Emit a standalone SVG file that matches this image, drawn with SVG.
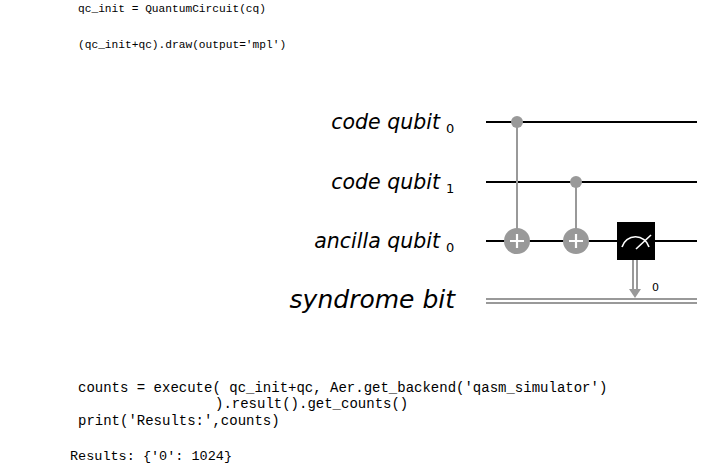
<svg xmlns="http://www.w3.org/2000/svg" width="710" height="469" viewBox="0 0 710 469">
<style>
.code{font-family:"Liberation Mono",monospace;font-size:11.2px;fill:#000}
.code2{font-family:"Liberation Mono",monospace;font-size:14px;fill:#000}
.lbl{font-family:"DejaVu Sans",sans-serif;font-style:italic;font-size:20.5px;fill:#000}
.sub{font-family:"DejaVu Sans",sans-serif;font-size:13px;fill:#000}
.wire{stroke:#000;stroke-width:2;fill:none}
.g{stroke:#999;stroke-width:2;fill:none}
</style>
<rect width="710" height="469" fill="#fff"/>
<g id="code-top">
<text class="code" x="78" y="12">qc_init = QuantumCircuit(cq)</text>
<text class="code" x="78" y="48">(qc_init+qc).draw(output='mpl')</text>
</g>
<g id="labels">
<text class="lbl" x="440" y="129" text-anchor="end">code qubit</text><text class="sub" x="446" y="133">0</text>
<text class="lbl" x="440" y="189" text-anchor="end">code qubit</text><text class="sub" x="446" y="193">1</text>
<text class="lbl" x="440" y="248" text-anchor="end">ancilla qubit</text><text class="sub" x="446" y="252">0</text>
<text class="lbl" x="455" y="308" text-anchor="end" style="font-size:25px">syndrome bit</text>
</g>
<g id="wires">
<line class="wire" x1="486" y1="122" x2="697" y2="122"/>
<line class="wire" x1="486" y1="182" x2="697" y2="182"/>
<line class="wire" x1="486" y1="241" x2="697" y2="241"/>
<line class="g" x1="486" y1="299" x2="697" y2="299" stroke-width="1.5"/>
<line class="g" x1="486" y1="303" x2="697" y2="303" stroke-width="1.5"/>
</g>
<g id="connectors">
<line class="g" x1="517" y1="122" x2="517" y2="241"/>
<line class="g" x1="576" y1="182" x2="576" y2="241"/>
<line class="g" x1="633" y1="258" x2="633" y2="290" stroke-width="1.5"/>
<line class="g" x1="637" y1="258" x2="637" y2="290" stroke-width="1.5"/>
<polygon points="629,289 641,289 635,298" fill="#999"/>
</g>
<g id="cx1">
<circle cx="517" cy="122" r="6" fill="#999"/>
<circle cx="517" cy="241" r="13" fill="#999"/>
<path d="M510 241h14M517 234v14" stroke="#fff" stroke-width="2.2"/>
</g>
<g id="cx2">
<circle cx="576" cy="182" r="6" fill="#999"/>
<circle cx="576" cy="241" r="13" fill="#999"/>
<path d="M569 241h14M576 234v14" stroke="#fff" stroke-width="2.2"/>
</g>
<g id="measure">
<rect x="617" y="222" width="38" height="38" fill="#000"/>
<path d="M622 247 A14 14 0 0 1 649 247" stroke="#fff" stroke-width="1.6" fill="none"/>
<line x1="636" y1="249" x2="651" y2="235" stroke="#fff" stroke-width="1.6"/>
<text x="652" y="291" style="font-family:'DejaVu Sans',sans-serif;font-size:11px">0</text>
</g>
<g id="code-bottom">
<text class="code2" x="78" y="392">counts = execute( qc_init+qc, Aer.get_backend('qasm_simulator')</text>
<text class="code2" x="215" y="408">).result().get_counts()</text>
<text class="code2" x="78" y="425">print('Results:',counts)</text>
<text class="code2" x="70" y="460" style="font-size:13.5px">Results: {'0': 1024}</text>
</g>
</svg>
